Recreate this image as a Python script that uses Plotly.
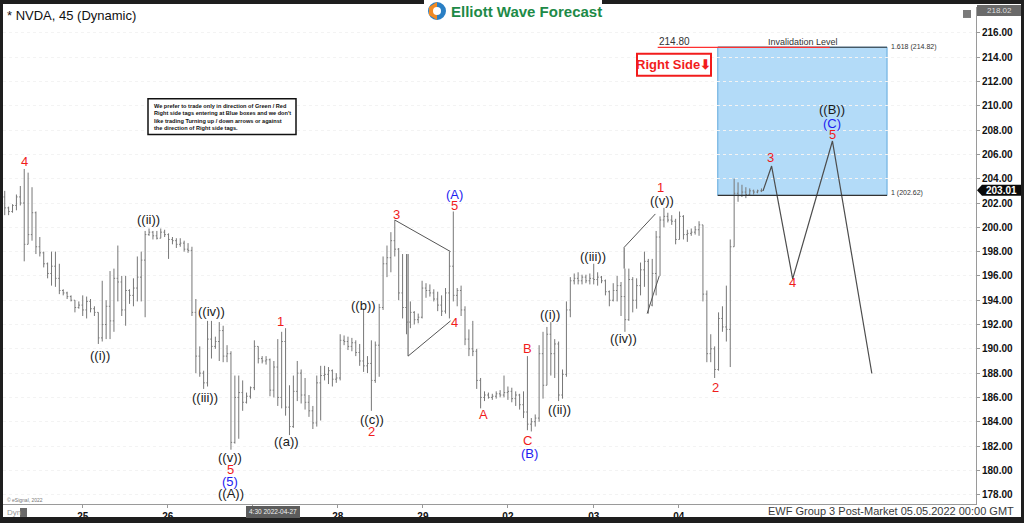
import plotly.graph_objects as go

# ---------------- data (45-min bars, NVDA) ----------------
opens = [202.5,201.6,201.3,201.8,202.5,202.0,198.6,199.4,201.2,198.4,
         197.9,197.0,196.2,196.8,195.8,194.8,194.6,194.3,194.0,193.4,
         193.6,193.2,193.9,193.3,193.0,190.9,192.0,193.5,192.3,195.8,
         195.5,193.2,194.8,194.4,195.0,195.9,197.3,199.4,199.6,199.3,
         199.1,199.6,199.4,199.0,198.9,198.6,198.7,198.2,198.1,193.0,
         189.4,188.0,187.2,190.8,190.2,190.6,191.5,189.4,189.6,182.3,
         186.0,186.4,185.6,186.1,186.8,190.2,189.2,189.0,189.1,186.6,
         188.5,186.0,190.6,185.2,183.6,186.5,188.0,186.2,185.6,184.9,
         183.9,187.2,187.8,187.9,188.2,187.5,187.6,190.7,190.6,190.2,
         190.5,189.7,189.0,188.6,188.8,187.4,190.3,193.4,197.0,197.5,
         198.9,198.2,194.6,193.4,192.2,193.0,192.4,192.6,195.0,194.8,
         194.6,194.1,193.6,193.1,194.6,196.8,194.4,194.8,193.2,190.8,
         190.0,189.8,187.4,186.0,186.2,186.0,186.1,186.3,186.2,186.4,
         186.5,185.9,186.2,185.4,184.8,183.8,184.0,184.3,189.6,187.0,
         191.2,189.6,190.4,186.2,187.9,193.2,195.6,195.8,195.6,195.9,
         195.6,195.8,195.7,195.9,195.6,194.7,194.0,194.8,195.2,194.3,
         192.4,195.7,194.0,195.2,196.5,197.2,193.6,196.2,199.2,200.6,
         200.9,200.6,200.5,199.0,200.9,199.4,199.5,199.6,199.8,200.2,
         194.5,189.6,190.0,188.3,192.5,191.8,191.6,198.4,202.8,202.6,
         202.9,202.7,203.0,202.9,203.0]
highs = [203.0,201.7,201.9,202.7,203.4,204.8,204.5,203.3,201.3,199.2,
         198.0,197.1,198.0,198.0,197.0,194.9,194.7,194.4,194.0,193.9,
         194.4,194.3,194.1,193.5,193.0,195.6,194.0,196.4,196.6,198.5,
         196.0,196.0,194.9,195.8,197.6,198.0,199.7,199.9,199.7,199.7,
         199.9,199.8,199.5,199.2,199.1,199.1,198.9,198.7,198.4,194.1,
         190.2,188.2,192.3,192.3,191.0,192.2,191.9,190.3,189.8,187.8,
         187.8,187.4,186.4,186.9,190.7,190.2,189.4,189.4,189.2,189.0,
         190.8,191.4,191.7,187.0,187.8,189.0,188.3,187.6,186.2,185.3,
         187.8,188.6,188.6,188.5,188.3,188.0,191.2,191.1,191.0,190.9,
         190.7,190.4,193.3,189.4,190.7,190.6,193.7,197.6,198.5,199.6,
         200.6,198.3,197.8,197.8,193.9,193.1,192.9,195.6,195.4,195.3,
         194.9,194.7,194.4,195.0,198.0,201.3,195.0,195.2,193.5,191.6,
         192.3,190.0,187.6,186.5,186.4,186.3,186.5,186.6,187.8,186.9,
         186.8,186.5,186.3,186.5,189.4,184.3,184.6,190.3,191.4,191.8,
         192.2,190.8,190.6,188.3,193.9,195.9,196.2,196.3,196.1,196.1,
         196.2,197.0,196.3,196.0,195.7,194.8,195.4,196.0,195.5,196.6,
         196.6,195.9,195.8,197.1,198.0,197.4,197.4,199.7,200.9,201.6,
         201.2,201.0,200.7,201.3,201.0,199.8,199.9,200.1,200.5,200.2,
         194.8,191.2,190.2,193.0,193.5,195.2,199.0,204.0,203.7,203.5,
         203.3,203.2,203.1,203.1,203.2]
lows = [201.0,201.0,201.2,201.4,201.8,197.2,198.6,198.9,197.8,197.6,
        196.7,195.8,195.2,195.1,194.5,194.4,194.1,193.9,193.0,193.3,
        192.7,192.5,193.0,192.7,190.4,190.6,190.8,190.8,191.4,193.9,
        192.7,191.9,193.7,193.5,193.9,193.9,192.6,199.3,199.0,199.0,
        199.1,199.2,197.4,198.6,198.3,198.4,198.0,197.9,192.7,188.0,
        187.7,186.7,186.9,189.2,190.0,189.0,188.9,188.9,181.7,182.2,
        182.6,184.9,185.5,185.9,186.6,188.8,188.8,188.7,186.1,186.0,
        185.3,185.1,184.5,182.9,183.5,185.7,185.5,185.0,184.4,183.4,
        183.6,184.1,187.4,187.1,186.9,187.2,187.4,190.3,189.9,189.8,
        189.4,188.6,188.1,188.0,184.9,187.2,187.7,193.2,195.9,196.3,
        197.6,194.0,192.5,191.2,191.7,192.0,192.1,192.5,194.2,194.3,
        193.9,193.1,192.7,192.9,192.5,193.9,193.5,192.7,190.3,189.4,
        189.4,186.7,185.1,185.7,185.9,185.8,185.9,186.0,186.0,185.8,
        185.6,185.3,185.0,184.3,183.3,183.2,183.6,184.0,185.9,187.0,
        187.8,187.6,185.7,185.9,187.7,192.6,195.3,195.3,195.3,195.4,
        195.3,195.3,195.2,195.4,194.4,193.5,193.9,193.9,192.7,191.4,
        192.3,193.0,193.3,194.4,195.1,192.9,193.5,194.4,196.0,200.0,
        200.4,200.2,198.6,199.0,199.0,198.8,199.3,199.4,199.3,193.9,
        188.9,188.9,187.6,188.2,191.4,190.6,188.5,198.4,202.1,202.5,
        202.4,202.6,202.7,202.8,202.9]
closes = [201.6,201.3,201.8,202.5,202.0,198.6,199.4,201.2,198.4,197.9,
          197.0,196.2,196.8,195.8,194.8,194.6,194.3,194.0,193.4,193.6,
          193.2,193.9,193.3,193.0,190.9,192.0,193.5,192.3,195.8,195.5,
          193.2,194.8,194.4,195.0,195.9,197.3,199.4,199.6,199.3,199.1,
          199.6,199.4,199.0,198.9,198.6,198.7,198.2,198.1,193.0,189.4,
          188.0,187.2,190.8,190.2,190.6,191.5,189.4,189.6,182.3,186.0,
          186.4,185.6,186.1,186.8,190.2,189.2,189.0,189.1,186.6,188.5,
          186.0,190.6,185.2,183.6,186.5,188.0,186.2,185.6,184.9,183.9,
          187.2,187.8,187.9,188.2,187.5,187.6,190.7,190.6,190.2,190.5,
          189.7,189.0,188.6,188.8,187.4,190.3,193.4,197.0,197.5,198.9,
          198.2,194.6,193.4,192.2,193.0,192.4,192.6,195.0,194.8,194.6,
          194.1,193.6,193.1,194.6,196.8,194.4,194.8,193.2,190.8,190.0,
          189.8,187.4,186.0,186.2,186.0,186.1,186.3,186.2,186.4,186.5,
          185.9,186.2,185.4,184.8,183.8,184.0,184.3,189.6,187.0,191.2,
          189.6,190.4,186.2,187.9,193.2,195.6,195.8,195.6,195.9,195.6,
          195.8,195.7,195.9,195.6,194.7,194.0,194.8,195.2,194.3,192.4,
          195.7,194.0,195.2,196.5,197.2,193.6,196.2,199.2,200.6,200.9,
          200.6,200.5,199.0,200.9,199.4,199.5,199.6,199.8,200.2,194.5,
          189.6,190.0,188.3,192.5,191.8,191.6,198.4,202.8,202.6,202.9,
          202.7,203.0,202.9,203.0,203.01]
bar_index = list(range(len(closes)))

day_ticks = [20, 41.8, 63.6, 85.4, 107.2, 129, 151, 172.8]
day_labels = ["25", "26", "", "28", "29", "02", "03", "04"]
price_ticks = list(range(178, 217, 2))

# Elliott wave labels: (text, bar position, price, colour key)
wave_text = ["4", "((i))", "((ii))", "((iii))", "((iv))", "((v))", "5", "(5)", "((A))",
             "1", "((a))", "((b))", "((c))", "2", "3", "(A)", "5", "4",
             "A", "B", "C", "(B)", "((i))", "((ii))", "((iii))", "((iv))", "1", "((v))",
             "2", "3", "4", "((B))", "(C)", "5"]
wave_x = [5.1, 24.4, 36.9, 51.3, 53.1, 57.7, 57.9, 57.7, 57.9,
          70.8, 72.3, 92.1, 94.1, 94.1, 100.5, 115.4, 115.4, 115.4,
          122.8, 134.1, 134.1, 134.6, 139.7, 142.3, 150.8, 158.7, 168.2, 168.5,
          182.3, 196.4, 202.0, 212.1, 212.1, 212.1]
wave_y = [205.43, 189.44, 200.67, 186.0, 193.05, 181.08, 180.1, 179.11, 178.13,
          192.23, 182.4, 193.54, 184.2, 183.2, 201.08, 202.72, 201.82, 192.15,
          184.6, 190.0, 182.48, 181.41, 192.8, 185.02, 197.56, 190.84, 203.3, 202.23,
          186.82, 205.75, 195.43, 209.69, 208.54, 207.64]
wave_col = ["r", "k", "k", "k", "k", "k", "r", "b", "k",
            "r", "k", "k", "k", "r", "r", "b", "r", "r",
            "r", "r", "r", "b", "k", "k", "k", "k", "r", "k",
            "r", "r", "r", "k", "b", "r"]

# projected path
proj_x = [194.4, 196.6, 202.0, 212.2, 222.3]
proj_y = [203.0, 205.04, 195.75, 207.1, 187.97]

# diagonal (wedge) drawings
wedge1_x = [100.0, 114.3, None, 103.4, 114.3, None, 103.4, 103.4]
wedge1_y = [200.6, 198.0, None, 189.4, 192.3, None, 189.4, 197.8]
wedge2_x = [158.8, 158.8, 166.8, None, 164.7, 167.8]
wedge2_y = [196.6, 198.35, 201.1, None, 192.9, 196.0]

# blue box levels
box_x = [182.8, 226.2]
box_low, box_high = 202.62, 214.82
invalidation = 214.80
last_price = 203.01

COLORS = {"r": "#f01c1c", "b": "#1d1df0", "k": "#1a1a1a"}

# ---------------- figure ----------------
L, R, T, B = 3, 48, 7, 19
W, H = 1024 - L - R, 525 - T - B
def xp(px): return (px - L) / W
def yp(py): return (525 - B - py) / H

fig = go.Figure()

fig.add_trace(go.Ohlc(
    x=bar_index, open=opens, high=highs, low=lows, close=closes,
    increasing=dict(line=dict(color="#777777", width=1)),
    decreasing=dict(line=dict(color="#777777", width=1)),
    tickwidth=0.3, hoverinfo="skip", showlegend=False))

fig.add_trace(go.Scatter(x=proj_x, y=proj_y, mode="lines",
                         line=dict(color="#4d4d4d", width=1.2),
                         hoverinfo="skip", showlegend=False))
fig.add_trace(go.Scatter(x=wedge1_x, y=wedge1_y, mode="lines",
                         line=dict(color="#555555", width=1),
                         hoverinfo="skip", showlegend=False, connectgaps=False))
fig.add_trace(go.Scatter(x=wedge2_x, y=wedge2_y, mode="lines",
                         line=dict(color="#555555", width=1),
                         hoverinfo="skip", showlegend=False, connectgaps=False))

shapes = []
# blue box
shapes.append(dict(type="rect", xref="x", yref="y", x0=box_x[0], x1=box_x[1],
                   y0=box_low, y1=box_high, fillcolor="#b3dbf8",
                   line=dict(color="#5fa8dc", width=1), layer="below"))
shapes.append(dict(type="line", xref="x", yref="y", x0=box_x[0], x1=box_x[1],
                   y0=box_low, y1=box_low, line=dict(color="#333333", width=1.2)))
shapes.append(dict(type="line", xref="x", yref="y", x0=box_x[0], x1=box_x[1],
                   y0=box_high, y1=box_high, line=dict(color="#333333", width=1)))
shapes.append(dict(type="line", xref="x", yref="y", x0=167.4, x1=211.5,
                   y0=invalidation, y1=invalidation, line=dict(color="#ff3030", width=1.2)))

# frame
shapes.append(dict(type="rect", xref="paper", yref="paper", x0=xp(0), x1=xp(1024),
                   y0=yp(0), y1=yp(4), fillcolor="#1e1e1e", line=dict(width=0)))
shapes.append(dict(type="rect", xref="paper", yref="paper", x0=xp(0), x1=xp(1024),
                   y0=yp(519), y1=yp(525), fillcolor="#1e1e1e", line=dict(width=0)))
shapes.append(dict(type="rect", xref="paper", yref="paper", x0=xp(0), x1=xp(3),
                   y0=yp(0), y1=yp(525), fillcolor="#1e1e1e", line=dict(width=0)))
shapes.append(dict(type="rect", xref="paper", yref="paper", x0=xp(1021), x1=xp(1024),
                   y0=yp(0), y1=yp(525), fillcolor="#1e1e1e", line=dict(width=0)))
# logo box
shapes.append(dict(type="rect", xref="paper", yref="paper", x0=xp(424), x1=xp(602),
                   y0=yp(0), y1=yp(23), fillcolor="white", line=dict(width=0)))
shapes.append(dict(type="circle", xref="paper", yref="paper", x0=xp(428), x1=xp(446),
                   y0=yp(20), y1=yp(2), fillcolor="#2a7fc4", line=dict(width=0)))
shapes.append(dict(type="path", xref="paper", yref="paper",
                   path="M {a},{b} L {c},{d} L {e},{f} L {g},{h} Z".format(
                       a=xp(437), b=yp(2), c=xp(429), d=yp(7), e=xp(429), f=yp(15), g=xp(437), h=yp(20)),
                   fillcolor="#f08a24", line=dict(width=0)))
shapes.append(dict(type="circle", xref="paper", yref="paper", x0=xp(433), x1=xp(441),
                   y0=yp(15), y1=yp(7), fillcolor="white", line=dict(width=0)))
# top right small icon
shapes.append(dict(type="rect", xref="paper", yref="paper", x0=xp(963), x1=xp(971),
                   y0=yp(18), y1=yp(10), fillcolor="#7a7a7a", line=dict(width=0)))
# note box
shapes.append(dict(type="rect", xref="paper", yref="paper", x0=xp(148), x1=xp(296),
                   y0=yp(135), y1=yp(99), fillcolor="white", line=dict(color="#111", width=1.5)))
# right side tag
shapes.append(dict(type="rect", xref="paper", yref="paper", x0=xp(637), x1=xp(711),
                   y0=yp(76), y1=yp(54), fillcolor="white", line=dict(color="#f21c1c", width=2)))
# 218.02 tag
shapes.append(dict(type="rect", xref="paper", yref="paper", x0=xp(977), x1=xp(1021),
                   y0=yp(16), y1=yp(5), fillcolor="#6a6a6a", line=dict(width=0)))
# last price tag
shapes.append(dict(type="path", xref="paper", yref="paper",
                   path="M {a},{m} L {b},{t} L {c},{t} L {c},{bt} L {b},{bt} Z".format(
                       a=xp(977), b=xp(982), c=xp(1021), m=yp(191), t=yp(185.5), bt=yp(196.5)),
                   fillcolor="#0a0a0a", line=dict(width=0)))
# crosshair date box
shapes.append(dict(type="rect", xref="paper", yref="paper", x0=xp(246), x1=xp(300),
                   y0=yp(520), y1=yp(508), fillcolor="#5c5c5c", line=dict(width=0)))
shapes.append(dict(type="rect", xref="paper", yref="paper", x0=xp(20), x1=xp(27),
                   y0=yp(519), y1=yp(510), fillcolor="#6a6a6a", line=dict(width=0)))

ann = []
for t, x, y, c in zip(wave_text, wave_x, wave_y, wave_col):
    ann.append(dict(x=x, y=y, xref="x", yref="y", text=t, showarrow=False,
                    font=dict(family="Arial", size=13, color=COLORS[c]),
                    xanchor="center", yanchor="middle"))

def pann(px, py, text, size, color, anchor="left", bold=False, family="Arial", bg=None):
    d = dict(x=xp(px), y=yp(py), xref="paper", yref="paper",
             text=("<b>%s</b>" % text) if bold else text, showarrow=False,
             font=dict(family=family, size=size, color=color),
             xanchor=anchor, yanchor="middle", align="left")
    if bg:
        d["bgcolor"] = bg
    return d

ann.append(pann(5, 16, "* NVDA, 45 (Dynamic)", 13, "#111111"))
ann.append(pann(449, 12, "Elliott Wave Forecast", 15, "#1d8a47", bold=True))
ann.append(pann(674, 42, "214.80", 10, "#333333", anchor="center"))
ann.append(pann(803, 42, "Invalidation Level", 9, "#333333", anchor="center"))
ann.append(pann(889, 47, "1.618 (214.82)", 7, "#333333"))
ann.append(pann(889, 194, "1 (202.62)", 7, "#333333"))
ann.append(pann(673, 65, "Right Side\u2b07", 13, "#f21c1c", anchor="center", bold=True))
ann.append(dict(x=xp(152), y=yp(117), xref="paper", yref="paper", showarrow=False,
                text="<b>We prefer to trade only in direction of Green / Red<br>"
                     "Right side tags entering at Blue boxes and we don't<br>"
                     "like trading Turning up / down arrows or against<br>"
                     "the direction of Right side tags.</b>",
                font=dict(family="Arial", size=5.6, color="#111111"),
                xanchor="left", yanchor="middle", align="left"))
ann.append(pann(999, 10.5, "218.02", 8, "#dddddd", anchor="center"))
ann.append(pann(1001, 191, "203.01", 10, "white", anchor="center", bold=True))
ann.append(pann(273, 514, "4:30 2022-04-27", 6.5, "#f0f0f0", anchor="center"))
ann.append(pann(5, 502, "\u00a9 eSignal, 2022", 5, "#777777"))
ann.append(pann(5, 515, "Dyn", 8, "#9a9a9a"))
ann.append(pann(1016, 513, "EWF Group 3 Post-Market 05.05.2022 00:00 GMT", 11, "#3a3a3a", anchor="right"))

fig.update_layout(
    width=1024, height=525,
    margin=dict(l=L, r=R, t=T, b=B),
    paper_bgcolor="white", plot_bgcolor="white",
    shapes=shapes, annotations=ann, showlegend=False,
    xaxis=dict(range=[-0.44, 249], tickmode="array", tickvals=day_ticks,
               ticktext=["<b>%s</b>" % s if s else "" for s in day_labels],
               tickfont=dict(family="Arial", size=10, color="#111"),
               ticks="outside", ticklen=3, tickcolor="#999",
               showline=True, linecolor="#9a9a9a", linewidth=1,
               showgrid=False, zeroline=False, rangeslider=dict(visible=False)),
    yaxis=dict(range=[177.23, 218.13], side="right", tickmode="array",
               tickvals=price_ticks, ticktext=["<b>%.2f</b>" % v for v in price_ticks],
               tickfont=dict(family="Arial", size=10, color="#111"),
               ticks="outside", ticklen=3, tickcolor="#999",
               showline=True, linecolor="#9a9a9a", linewidth=1,
               showgrid=True, gridcolor="#f3f3f3", griddash="dot", zeroline=False),
)

fig.write_html("out.html", config={"displayModeBar": False},
               post_script="document.body.style.margin='0px';document.body.style.overflow='hidden';")
